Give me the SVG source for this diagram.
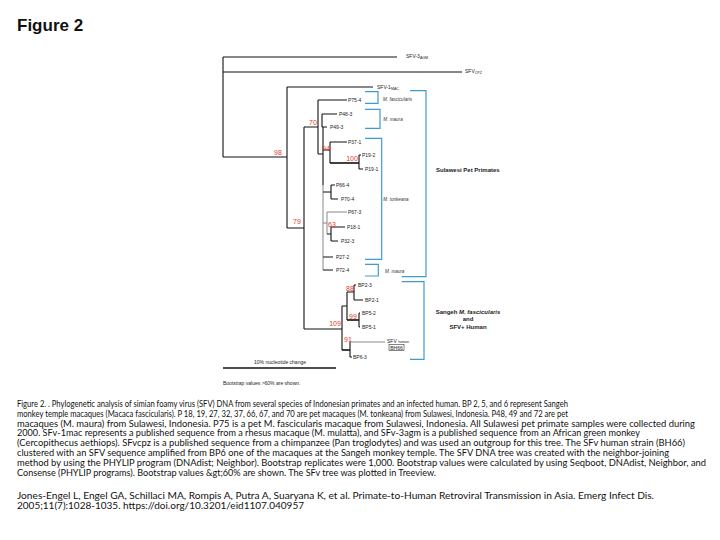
<svg xmlns="http://www.w3.org/2000/svg" width="720" height="540" viewBox="0 0 720 540">
<style>
.t{stroke:#111;stroke-width:1.1;fill:none}
.g{stroke:#888;stroke-width:1;fill:none}
.k{stroke:#111;stroke-width:1.6;fill:none}
.b{stroke:#3f9bd3;stroke-width:1.2;fill:none}
.lf{font-family:"Liberation Sans",Arial,sans-serif;font-size:5px;fill:#222}
.sm{font-size:3.6px}
.bs{font-family:"Liberation Sans",Arial,sans-serif;font-size:7px;fill:#e03a2a;text-anchor:middle}
.sp{font-family:"Liberation Sans",Arial,sans-serif;font-size:4.6px;font-style:italic;fill:#333}
.grp{font-family:"Liberation Sans",Arial,sans-serif;font-size:6px;font-weight:bold;fill:#222}
.cap{font-family:Lato,"Open Sans",sans-serif;font-size:9.5px;fill:#111}
</style>
<rect width="720" height="540" fill="#fff"/>
<text x="17" y="31" font-family="'Liberation Sans',Arial,sans-serif" font-size="17" font-weight="bold" fill="#111">Figure 2</text>

<g id="connectors">
<!-- root -->
<path class="t" d="M223,57V157M223,57H397M223,72H462M223,157H287"/>
<path class="t" d="M287,87V228M287,87H373M287,228H304"/>
<path class="t" d="M304,127V329M304,127H318M304,329H342"/>
<!-- Sulawesi -->
<path class="t" d="M318,100V154M318,100H347M318,154H323"/>
<path class="t" d="M322,114V127M322,114H337M322,127H327"/>
<path class="t" d="M323,127V185M323,150H330"/>
<path class="g" d="M323,185V270"/>
<path class="t" d="M330,142V163M330,142H347"/>
<path class="k" d="M330,163H359"/>
<path class="t" d="M359,155V169M359,155H361M359,169H363"/>
<path class="t" d="M323,192H331M331,185V199M331,185H335M331,199H338"/>
<path class="g" d="M323,223H327M327,212V234M327,212H347"/>
<path class="t" d="M327,234H331M331,227V241M331,227H345M331,241H338"/>
<path class="t" d="M323,257H333M323,270H333"/>
<!-- Sangeh -->
<path class="t" d="M342,306V350M342,306H347M347,292V320M347,292H354"/>
<path class="t" d="M354,285V300M354,285H356M354,300H363"/>
<path class="k" d="M347,320H359"/>
<path class="t" d="M359,313V327M359,313H360M359,327H360"/>
<path class="k" d="M342,350H350"/>
<path class="t" d="M350,342V357M350,357H352"/>
<path class="g" d="M350,342H385"/>
<!-- scale bar -->
<path class="k" d="M223,368H336"/>
<!-- brackets -->
<path class="b" d="M365,91.7H378V103.3H365"/>
<path class="b" d="M365,109.3H380V128.3H365"/>
<path class="b" d="M365,138.3H381.7V259.3H365"/>
<path class="b" d="M365,264.3H378.3V276H365"/>
<path class="b" d="M410,90.7H426V276.7H401.7"/>
<path class="b" d="M401.7,281.7H424V359.3H410"/>
</g>

<g id="leaves">
<text class="lf" x="406" y="58">SFV-3<tspan class="sm" dy="1">AGM</tspan></text>
<text class="lf" x="465" y="73">SFV<tspan class="sm" dy="1">CPZ</tspan></text>
<text class="lf" x="377" y="88.5">SFV-1<tspan class="sm" dy="1">MAC</tspan></text>
<text class="lf" x="348" y="101.8">P75-4</text>
<text class="lf" x="339" y="115.8">P48-3</text>
<text class="lf" x="330" y="128.8">P49-3</text>
<text class="lf" x="348" y="143.8">P37-1</text>
<text class="lf" x="362" y="156.8">P19-2</text>
<text class="lf" x="365" y="170.8">P19-1</text>
<text class="lf" x="336" y="186.8">P66-4</text>
<text class="lf" x="341" y="200.8">P70-4</text>
<text class="lf" x="348" y="213.8">P67-3</text>
<text class="lf" x="347" y="228.8">P18-1</text>
<text class="lf" x="341" y="242.8">P32-3</text>
<text class="lf" x="336" y="258.8">P27-2</text>
<text class="lf" x="336" y="271.8">P72-4</text>
<text class="lf" x="358" y="286.8">BP2-3</text>
<text class="lf" x="365" y="301.8">BP2-1</text>
<text class="lf" x="362" y="314.8">BP5-2</text>
<text class="lf" x="362" y="328.8">BP5-1</text>
<text class="lf" x="387" y="343">SFV <tspan class="sm">human</tspan></text>
<rect x="389" y="344.5" width="15" height="6" fill="none" stroke="#333" stroke-width="0.6"/>
<text class="lf" x="396.5" y="349.5" text-anchor="middle" font-size="4.2">BH66</text>
<text class="lf" x="353" y="358.8">BP6-3</text>
</g>

<g id="bootstrap">
<text class="bs" x="278" y="154.5">98</text>
<text class="bs" x="297" y="224">79</text>
<text class="bs" x="313" y="124.5">70</text>
<text class="bs" x="326" y="150.5">94</text>
<text class="bs" x="352" y="160.5">100</text>
<text class="bs" x="332" y="226.5">63</text>
<text class="bs" x="335" y="325.5">109</text>
<text class="bs" x="350" y="290.5">88</text>
<text class="bs" x="353" y="318.5">99</text>
<text class="bs" x="348" y="341.5">91</text>
</g>

<g id="groups">
<text class="sp" x="383" y="100.5">M. fascicularis</text>
<text class="sp" x="383.3" y="120.5">M. maura</text>
<text class="sp" x="383.3" y="200.8">M. tonkeana</text>
<text class="sp" x="385" y="272.5">M. maura</text>
<text class="grp" x="436" y="172">Sulawesi Pet Primates</text>
<text class="grp" x="468" y="314" text-anchor="middle">Sangeh <tspan font-style="italic">M. fascicularis</tspan></text>
<text class="grp" x="468" y="321" text-anchor="middle">and</text>
<text class="grp" x="468" y="328.5" text-anchor="middle">SFV+  Human</text>
<text class="lf" x="280" y="363.5" text-anchor="middle">10% nucleotide change</text>
<text class="lf" x="223" y="384.5">Bootstrap values &gt;60% are shown.</text>
</g>

<g id="caption">
<text class="cap" x="17" y="406.5" textLength="551" lengthAdjust="spacingAndGlyphs">Figure 2. . Phylogenetic analysis of simian foamy virus (SFV) DNA from several species of Indonesian primates and an infected human. BP 2, 5, and 6 represent Sangeh</text>
<text class="cap" x="17" y="416.5" textLength="551" lengthAdjust="spacingAndGlyphs">monkey temple macaques (Macaca fascicularis). P 18, 19, 27, 32, 37, 66, 67, and 70 are pet macaques (M. tonkeana) from Sulawesi, Indonesia. P48, 49 and 72 are pet</text>
<text class="cap" x="17" y="426.5" textLength="678" lengthAdjust="spacingAndGlyphs">macaques (M. maura) from Sulawesi, Indonesia. P75 is a pet M. fascicularis macaque from Sulawesi, Indonesia. All Sulawesi pet primate samples were collected during</text>
<text class="cap" x="17" y="436.3" textLength="623" lengthAdjust="spacingAndGlyphs">2000. SFv-1mac represents a published sequence from a rhesus macaque (M. mulatta), and SFv-3agm is a published sequence from an African green monkey</text>
<text class="cap" x="17" y="446.2" textLength="668" lengthAdjust="spacingAndGlyphs">(Cercopithecus aethiops). SFvcpz is a published sequence from a chimpanzee (Pan troglodytes) and was used an outgroup for this tree. The SFv human strain (BH66)</text>
<text class="cap" x="17" y="456.1" textLength="652" lengthAdjust="spacingAndGlyphs">clustered with an SFV sequence amplified from BP6 one of the macaques at the Sangeh monkey temple. The SFV DNA tree was created with the neighbor-joining</text>
<text class="cap" x="17" y="466" textLength="689" lengthAdjust="spacingAndGlyphs">method by using the PHYLIP program (DNAdist; Neighbor). Bootstrap replicates were 1,000. Bootstrap values were calculated by using Seqboot, DNAdist, Neighbor, and</text>
<text class="cap" x="17" y="475.9" textLength="419" lengthAdjust="spacingAndGlyphs">Consense (PHYLIP programs). Bootstrap values &amp;gt;60% are shown. The SFv tree was plotted in Treeview.</text>
<text class="cap" x="17" y="499" textLength="637" lengthAdjust="spacingAndGlyphs">Jones-Engel L, Engel GA, Schillaci MA, Rompis A, Putra A, Suaryana K, et al. Primate-to-Human Retroviral Transmission in Asia. Emerg Infect Dis.</text>
<text class="cap" x="17" y="509" textLength="287" lengthAdjust="spacingAndGlyphs">2005;11(7):1028-1035. https://doi.org/10.3201/eid1107.040957</text>
</g>
</svg>
